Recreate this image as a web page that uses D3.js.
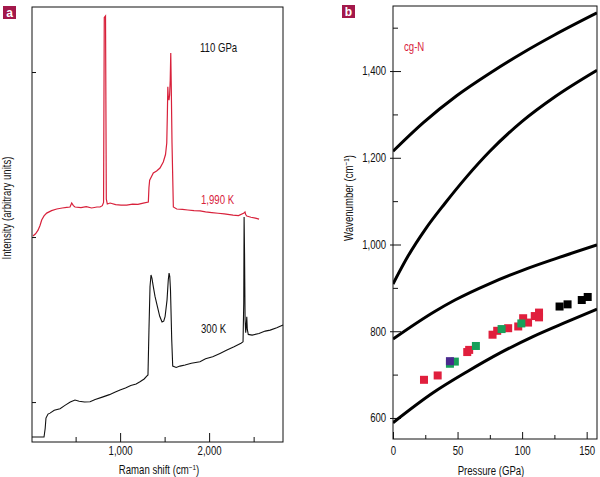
<!DOCTYPE html>
<html>
<head>
<meta charset="utf-8">
<script src="https://cdn.jsdelivr.net/npm/d3@7"></script>
<style>
  body { margin: 0; background: #fff; }
  svg text { font-family: "Liberation Sans", Arial, sans-serif; }
</style>
</head>
<body>
<svg id="chart" width="600" height="477"></svg>
<script>
// ---- panel a : Raman spectra, 110 GPa ----
const redShift = [21, 50, 78, 100, 119, 145, 175, 230, 288, 350, 400, 437, 456, 475, 493, 560, 620, 680, 740, 774, 800, 814,
  822, 836, 845, 856, 887, 950, 1010, 1074, 1140, 1200, 1260, 1317, 1324, 1332, 1373, 1410, 1448, 1485, 1510, 1524, 1531,
  1536, 1541, 1549, 1556, 1563, 1569, 1575, 1583, 1598, 1636, 1700, 1760, 1830, 1898, 1960, 2030, 2100, 2170, 2230, 2269,
  2330, 2392, 2403, 2411, 2423, 2470, 2520, 2561];
const redIntensity = [1.006, 1.02, 1.042, 1.07, 1.103, 1.128, 1.145, 1.16, 1.17, 1.176, 1.18, 1.182, 1.206, 1.19, 1.182,
  1.178, 1.184, 1.176, 1.182, 1.182, 1.19, 1.21, 2.33, 2.34, 1.23, 1.2, 1.206, 1.196, 1.194, 1.194, 1.2, 1.198, 1.206,
  1.212, 1.3, 1.345, 1.388, 1.4, 1.418, 1.455, 1.5, 1.57, 1.75, 1.91, 1.85, 1.83, 1.86, 1.95, 2.115, 1.9, 1.57, 1.182,
  1.17, 1.168, 1.164, 1.16, 1.158, 1.152, 1.148, 1.144, 1.14, 1.136, 1.133, 1.13, 1.145, 1.152, 1.136, 1.127, 1.12,
  1.115, 1.109];
const blackShift = [10, 145, 158, 167, 190, 212, 260, 325, 380, 440, 493, 540, 600, 662, 720, 800, 880, 940, 999, 1060,
  1120, 1180, 1223, 1270, 1302, 1313, 1324, 1336, 1347, 1358, 1370, 1392, 1415, 1445, 1471, 1490, 1505, 1527, 1541, 1550,
  1558, 1566, 1580, 1591, 1630, 1672, 1730, 1800, 1897, 1960, 2040, 2122, 2200, 2280, 2358, 2381, 2389, 2393, 2398, 2404,
  2411, 2417, 2423, 2429, 2440, 2483, 2560, 2630, 2686, 2760, 2830];
const blackIntensity = [-0.212, -0.212, -0.16, -0.097, -0.073, -0.067, -0.05, -0.04, -0.02, 0.0, 0.012, 0.005, 0.0, 0.002,
  0.015, 0.03, 0.045, 0.06, 0.073, 0.085, 0.1, 0.11, 0.123, 0.14, 0.158, 0.164, 0.436, 0.7, 0.77, 0.75, 0.709, 0.64, 0.588,
  0.52, 0.485, 0.49, 0.517, 0.618, 0.74, 0.782, 0.76, 0.679, 0.376, 0.218, 0.21, 0.218, 0.225, 0.235, 0.244, 0.262, 0.275,
  0.295, 0.315, 0.335, 0.356, 0.365, 0.6, 1.121, 0.9, 0.5, 0.42, 0.46, 0.517, 0.44, 0.41, 0.406, 0.415, 0.43, 0.436, 0.45,
  0.467];
const shiftTicks = [1000, 2000];
const shiftMinorTicks = [500, 1500, 2500];
const intensityTicks = [0, 1, 2];

// ---- panel b : cg-N frequencies vs pressure ----
const curve1P = [0, 23.5, 49.3, 75, 100, 125, 158];
const curve1W = [1215, 1281, 1343, 1395, 1441, 1483, 1534];
const curve2P = [0, 12, 25, 40, 57, 75, 100, 126, 158];
const curve2W = [909, 975, 1035, 1094, 1156, 1215, 1284, 1342, 1402];
const curve3P = [0, 32, 48, 75, 100.8, 126.6, 158];
const curve3W = [782, 845, 872, 910, 941, 968, 999];
const curve4P = [0, 31, 57, 83, 108, 135, 158];
const curve4W = [589, 658, 706, 750, 787, 822, 851];
const redP = [24, 34.6, 57.5, 59, 77.1, 80.7, 89.2, 97, 100.8, 104.6, 109.8, 113.1, 113.1];
const redW = [688, 698, 752, 757, 792, 801, 807, 811, 830, 820, 835, 843, 832];
const greenP = [44.1, 47.9, 64.2, 84.1, 99.4];
const greenW = [725, 730, 766, 805, 818];
const purpleP = [44.1];
const purpleW = [731];
const blackP = [129, 135.2, 146.2, 150.8];
const blackW = [857, 862, 872, 879];
const pressureTicks = [0, 50, 100, 150];
const pressureMinorTicks = [25, 75, 125];
const waveTicks = [600, 800, 1000, 1200, 1400];
const waveMinorTicks = [700, 900, 1100, 1300, 1500];

const RED = "#d8213b", BADGE = "#a3184b";
const NARROW = "scale(0.8,1)";   // the figure uses a condensed face
const svg = d3.select("#chart");
svg.append("rect").attr("width", 600).attr("height", 477).attr("fill", "#fff");

function zip(xs, ys) { return xs.map((x, i) => ({x, y: ys[i]})); }
function badge(x, y, letter) {
  svg.append("rect").attr("x", x).attr("y", y).attr("width", 13).attr("height", 13).attr("fill", BADGE);
  svg.append("text").attr("x", x + 6.5).attr("y", y + 10.5).attr("text-anchor", "middle")
    .attr("fill", "#fff").attr("font-size", 12).attr("font-weight", "bold").text(letter);
}
function textAt(x, y, rotate) {
  return svg.append("g").attr("transform", `translate(${x},${y})${rotate ? " rotate(-90)" : ""} ${NARROW}`)
    .append("text").attr("font-size", 12).attr("fill", "#111");
}
function label(x, y, txt, opts = {}) {
  return textAt(x, y, opts.rotate).attr("fill", opts.color || "#111")
    .attr("text-anchor", opts.anchor || "start").text(txt);
}
function unitLabel(x, y, before, after, rotate) {
  const t = textAt(x, y, rotate).attr("text-anchor", "middle");
  t.append("tspan").text(before);
  t.append("tspan").attr("dy", -4.5).attr("font-size", 8).text("\u22121");
  t.append("tspan").attr("dy", 4.5).text(after);
}
function styleAxis(g) {
  g.select(".domain").remove();
  g.selectAll("line").attr("stroke", "#111");
  g.selectAll("text").attr("font-size", 12).attr("fill", "#111").attr("transform", NARROW)
    .style("font-family", "'Liberation Sans',Arial,sans-serif");
}

// ---------- panel a ----------
const xA = d3.scaleLinear().domain([10, 2830]).range([32, 283]);
const yA = d3.scaleLinear().domain([-0.242, 2.394]).range([442, 7]);

svg.append("g").attr("transform", "translate(0,442)")
  .call(d3.axisBottom(xA).tickValues(shiftTicks).tickSizeInner(-9).tickSizeOuter(0).tickPadding(4)
    .tickFormat(d3.format(",")))
  .call(styleAxis);
svg.append("g").attr("transform", "translate(0,442)")
  .call(d3.axisBottom(xA).tickValues(shiftMinorTicks).tickSizeInner(-5).tickSizeOuter(0).tickFormat(""))
  .call(styleAxis);
svg.append("g").attr("transform", "translate(32,0)")
  .call(d3.axisLeft(yA).tickValues(intensityTicks).tickSizeInner(-4).tickSizeOuter(0).tickFormat(""))
  .call(styleAxis);

const lineA = d3.line().x(d => xA(d.x)).y(d => yA(d.y));
svg.append("path").datum(zip(blackShift, blackIntensity)).attr("d", lineA)
  .attr("fill", "none").attr("stroke", "#111").attr("stroke-width", 1.1);
svg.append("path").datum(zip(redShift, redIntensity)).attr("d", lineA)
  .attr("fill", "none").attr("stroke", RED).attr("stroke-width", 1.2);

svg.append("rect").attr("x", 32).attr("y", 7).attr("width", 251).attr("height", 435)
  .attr("fill", "none").attr("stroke", "#111").attr("stroke-width", 1);

label(200, 52, "110 GPa");
label(201, 204, "1,990 K", {color: RED});
label(201, 333, "300 K");
unitLabel(159, 474, "Raman shift (cm", ")");
label(11, 208, "Intensity (arbitrary units)", {rotate: true, anchor: "middle"});
badge(3, 6, "a");

// ---------- panel b ----------
const xB = d3.scaleLinear().domain([0, 158]).range([393, 597]);
const yB = d3.scaleLinear().domain([551.5, 1550]).range([439, 6]);

svg.append("g").attr("transform", "translate(0,439)")
  .call(d3.axisBottom(xB).tickValues(pressureTicks).tickSizeInner(-7).tickSizeOuter(0).tickPadding(7))
  .call(styleAxis);
svg.append("g").attr("transform", "translate(0,439)")
  .call(d3.axisBottom(xB).tickValues(pressureMinorTicks).tickSizeInner(-4).tickSizeOuter(0).tickFormat(""))
  .call(styleAxis);
svg.append("g").attr("transform", "translate(393,0)")
  .call(d3.axisLeft(yB).tickValues(waveTicks).tickSizeInner(-8).tickSizeOuter(0).tickPadding(8.5)
    .tickFormat(d3.format(",")))
  .call(styleAxis)
  .call(g => g.selectAll(".tick line").attr("x2", 8).attr("x1", -3));
svg.append("g").attr("transform", "translate(393,0)")
  .call(d3.axisLeft(yB).tickValues(waveMinorTicks).tickSizeInner(-5).tickSizeOuter(0).tickFormat(""))
  .call(styleAxis);

const plotB = svg.append("g");
plotB.append("clipPath").attr("id", "clipB").append("rect")
  .attr("x", 393).attr("y", 6).attr("width", 204).attr("height", 433);
const lineB = d3.line().x(d => xB(d.x)).y(d => yB(d.y)).curve(d3.curveMonotoneX);
[[curve1P, curve1W], [curve2P, curve2W], [curve3P, curve3W], [curve4P, curve4W]].forEach(([p, w]) => {
  plotB.append("path").datum(zip(p, w)).attr("d", lineB).attr("clip-path", "url(#clipB)")
    .attr("fill", "none").attr("stroke", "#000").attr("stroke-width", 3);
});

function squares(ps, ws, color) {
  plotB.selectAll(null).data(zip(ps, ws)).enter().append("rect")
    .attr("x", d => xB(d.x) - 4).attr("y", d => yB(d.y) - 4)
    .attr("width", 8).attr("height", 8).attr("fill", color);
}
squares(redP, redW, "#e01f3d");
squares(greenP, greenW, "#17a05a");
squares(purpleP, purpleW, "#4a2a8e");
squares(blackP, blackW, "#000");

svg.append("rect").attr("x", 393).attr("y", 6).attr("width", 204).attr("height", 433)
  .attr("fill", "none").attr("stroke", "#111").attr("stroke-width", 1);

label(404, 51, "cg-N", {color: RED});
label(491, 475, "Pressure  (GPa)", {anchor: "middle"});
unitLabel(353, 198, "Wavenumber  (cm", ")", true);
badge(342, 5, "b");
</script>
</body>
</html>
